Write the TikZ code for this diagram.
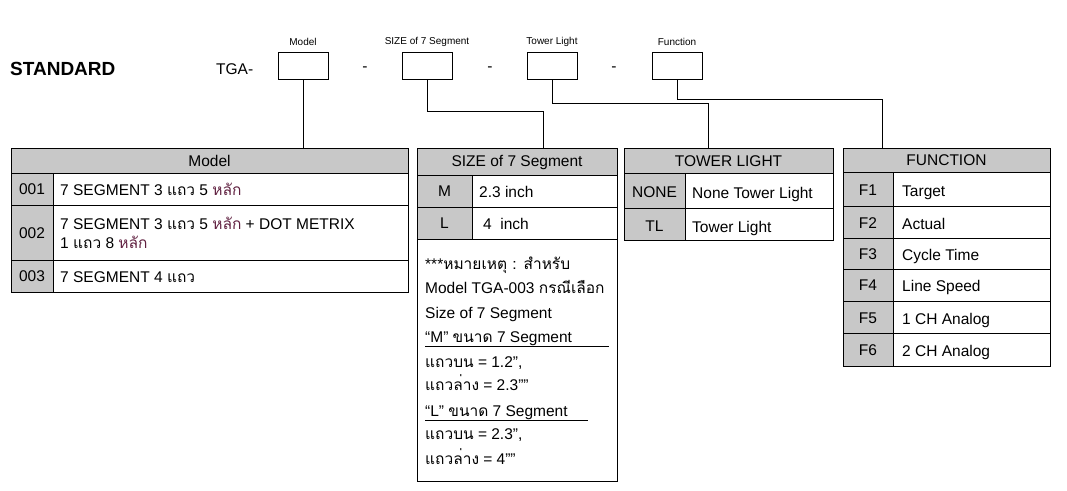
\documentclass[tikz,border=0pt]{standalone}
\usepackage{fontspec}
\setmainfont{Liberation Sans}
\IfFontExistsTF{Loma}{\newfontfamily\thaif{Loma}}{\newfontfamily\thaif{Liberation Sans}}
\newcommand\tha[1]{{\thaif #1}}
\definecolor{hd}{HTML}{C8C8C8}
\definecolor{thc}{HTML}{602040}
\begin{document}
\begin{tikzpicture}[x=1pt,y=-1pt,
  txt/.style={font=\fontsize{15.5}{18}\selectfont,inner sep=0pt},
  lt/.style={txt,anchor=base west},
  sm/.style={font=\fontsize{10}{11}\selectfont,inner sep=0pt},
  gbox/.style={draw,fill=hd,line width=0.8pt},
  wbox/.style={draw,fill=white,line width=0.8pt},
  code/.style={draw,line width=0.8pt,minimum width=50pt,minimum height=27pt,inner sep=0pt},
  conn/.style={line width=0.8pt}]
\useasboundingbox (0,0) rectangle (1067,490);
% top line
\node[anchor=west,font=\fontsize{19}{22}\selectfont\bfseries,inner sep=0pt] (std) at (10,69) {STANDARD};
\node[anchor=west,txt] (tga) at (216,69) {TGA-};
\node[code] (b1) at (303,65.5) {};
\node[code] (b2) at (427,65.5) {};
\node[code] (b3) at (552,65.5) {};
\node[code] (b4) at (677,65.5) {};
\node[sm] (l1) at (303,42) {Model};
\node[sm] (l2) at (427,42) {SIZE of 7 Segment};
\node[sm] (l3) at (552,42) {Tower Light};
\node[sm] (l4) at (677,42) {Function};
\node[txt] (d1) at (365,69) {-};
\node[txt] (d2) at (490,69) {-};
\node[txt] (d3) at (614,69) {-};
% tables
\coordinate (t1) at (303,148);
\coordinate (t2) at (543,148);
\coordinate (t3) at (708,148);
\coordinate (t4) at (882,148);
% Model table
\draw[gbox] (11,148) rectangle (408,173);
\node[txt] (mh) at (209.5,161) {Model};
\draw[gbox] (11,173) rectangle (53,292);
\draw[wbox] (53,173) rectangle (408,292);
\draw[line width=0.8pt] (11,205) -- (408,205) (11,260) -- (408,260);
\node[txt] (m1) at (32,189) {001};
\node[txt] (m2) at (32,233) {002};
\node[txt] (m3) at (32,276) {003};
\node[lt] (m1t) at (60,195) {7 SEGMENT 3 \tha{แถว} 5 \textcolor{thc}{\tha{หลัก}}};
\node[lt] (m2t) at (60,229) {7 SEGMENT 3 \tha{แถว} 5 \textcolor{thc}{\tha{หลัก}} + DOT METRIX};
\node[lt] (m2u) at (60,248) {1 \tha{แถว} 8 \textcolor{thc}{\tha{หลัก}}};
\node[lt] (m3t) at (60,282) {7 SEGMENT 4 \tha{แถว}};
% Size table
\draw[gbox] (417,148) rectangle (617,175);
\node[txt] (sh) at (517,162) {SIZE of 7 Segment};
\draw[gbox] (417,175) rectangle (472,239);
\draw[wbox] (472,175) rectangle (617,239);
\draw[line width=0.8pt] (417,207) -- (617,207);
\node[txt] (s1) at (444.5,191) {M};
\node[txt] (s2) at (444.5,223) {L};
\node[lt] (s1t) at (479,197) {2.3 inch};
\node[lt] (s2t) at (483,229) {4\ \ inch};
\draw[wbox] (417,239) rectangle (617,481);
\begin{scope}[every node/.style={lt}]
\node (n1) at (425,269) {***\tha{หมายเหตุ : สำหรับ}};
\node (n2) at (425,293) {Model TGA-003 \tha{กรณีเลือก}};
\node (n3) at (425,318) {Size of 7 Segment};
\node (n4) at (425,342) {“M” \tha{ขนาด} 7 Segment};
\node (n5) at (425,367) {\tha{แถวบน} = 1.2”,};
\node (n6) at (425,390) {\tha{แถวล่าง} = 2.3””};
\node (n7) at (425,416) {“L” \tha{ขนาด} 7 Segment};
\node (n8) at (425,439) {\tha{แถวบน} = 2.3”,};
\node (n9) at (425,464) {\tha{แถวล่าง} = 4””};
\end{scope}
\draw[line width=0.8pt] (425,346) -- (609,346) (425,420) -- (588,420);
% Tower table
\draw[gbox] (624,148) rectangle (833,173);
\node[txt] (th) at (728.5,161) {TOWER LIGHT};
\draw[gbox] (624,173) rectangle (685,240);
\draw[wbox] (685,173) rectangle (833,240);
\draw[line width=0.8pt] (624,208) -- (833,208);
\node[txt] (tw1) at (654.5,192) {NONE};
\node[txt] (tw2) at (654.5,226) {TL};
\node[lt] (tw1t) at (692,198) {None Tower Light};
\node[lt] (tw2t) at (692,232) {Tower Light};
% Function table
\draw[gbox] (843,148) rectangle (1050,172);
\node[txt] (fh) at (946.5,160) {FUNCTION};
\draw[gbox] (843,172) rectangle (893,366);
\draw[wbox] (893,172) rectangle (1050,366);
\draw[line width=0.8pt] (843,206) -- (1050,206) (843,238) -- (1050,238) (843,269) -- (1050,269) (843,301) -- (1050,301) (843,333) -- (1050,333);
\node[txt] (f1) at (868,190) {F1};
\node[txt] (f2) at (868,223) {F2};
\node[txt] (f3) at (868,254) {F3};
\node[txt] (f4) at (868,285) {F4};
\node[txt] (f5) at (868,318) {F5};
\node[txt] (f6) at (868,350) {F6};
\node[lt] (f1t) at (902,196) {Target};
\node[lt] (f2t) at (902,229) {Actual};
\node[lt] (f3t) at (902,260) {Cycle Time};
\node[lt] (f4t) at (902,291) {Line Speed};
\node[lt] (f5t) at (902,324) {1 CH Analog};
\node[lt] (f6t) at (902,356) {2 CH Analog};
% connectors
\draw[conn] (b1.south) -- (t1);
\draw[conn] (b2.south) -- (427,111) -- (543,111) -- (t2);
\draw[conn] (b3.south) -- (552,103) -- (708,103) -- (t3);
\draw[conn] (b4.south) -- (677,99) -- (882,99) -- (t4);
\end{tikzpicture}
\end{document}
